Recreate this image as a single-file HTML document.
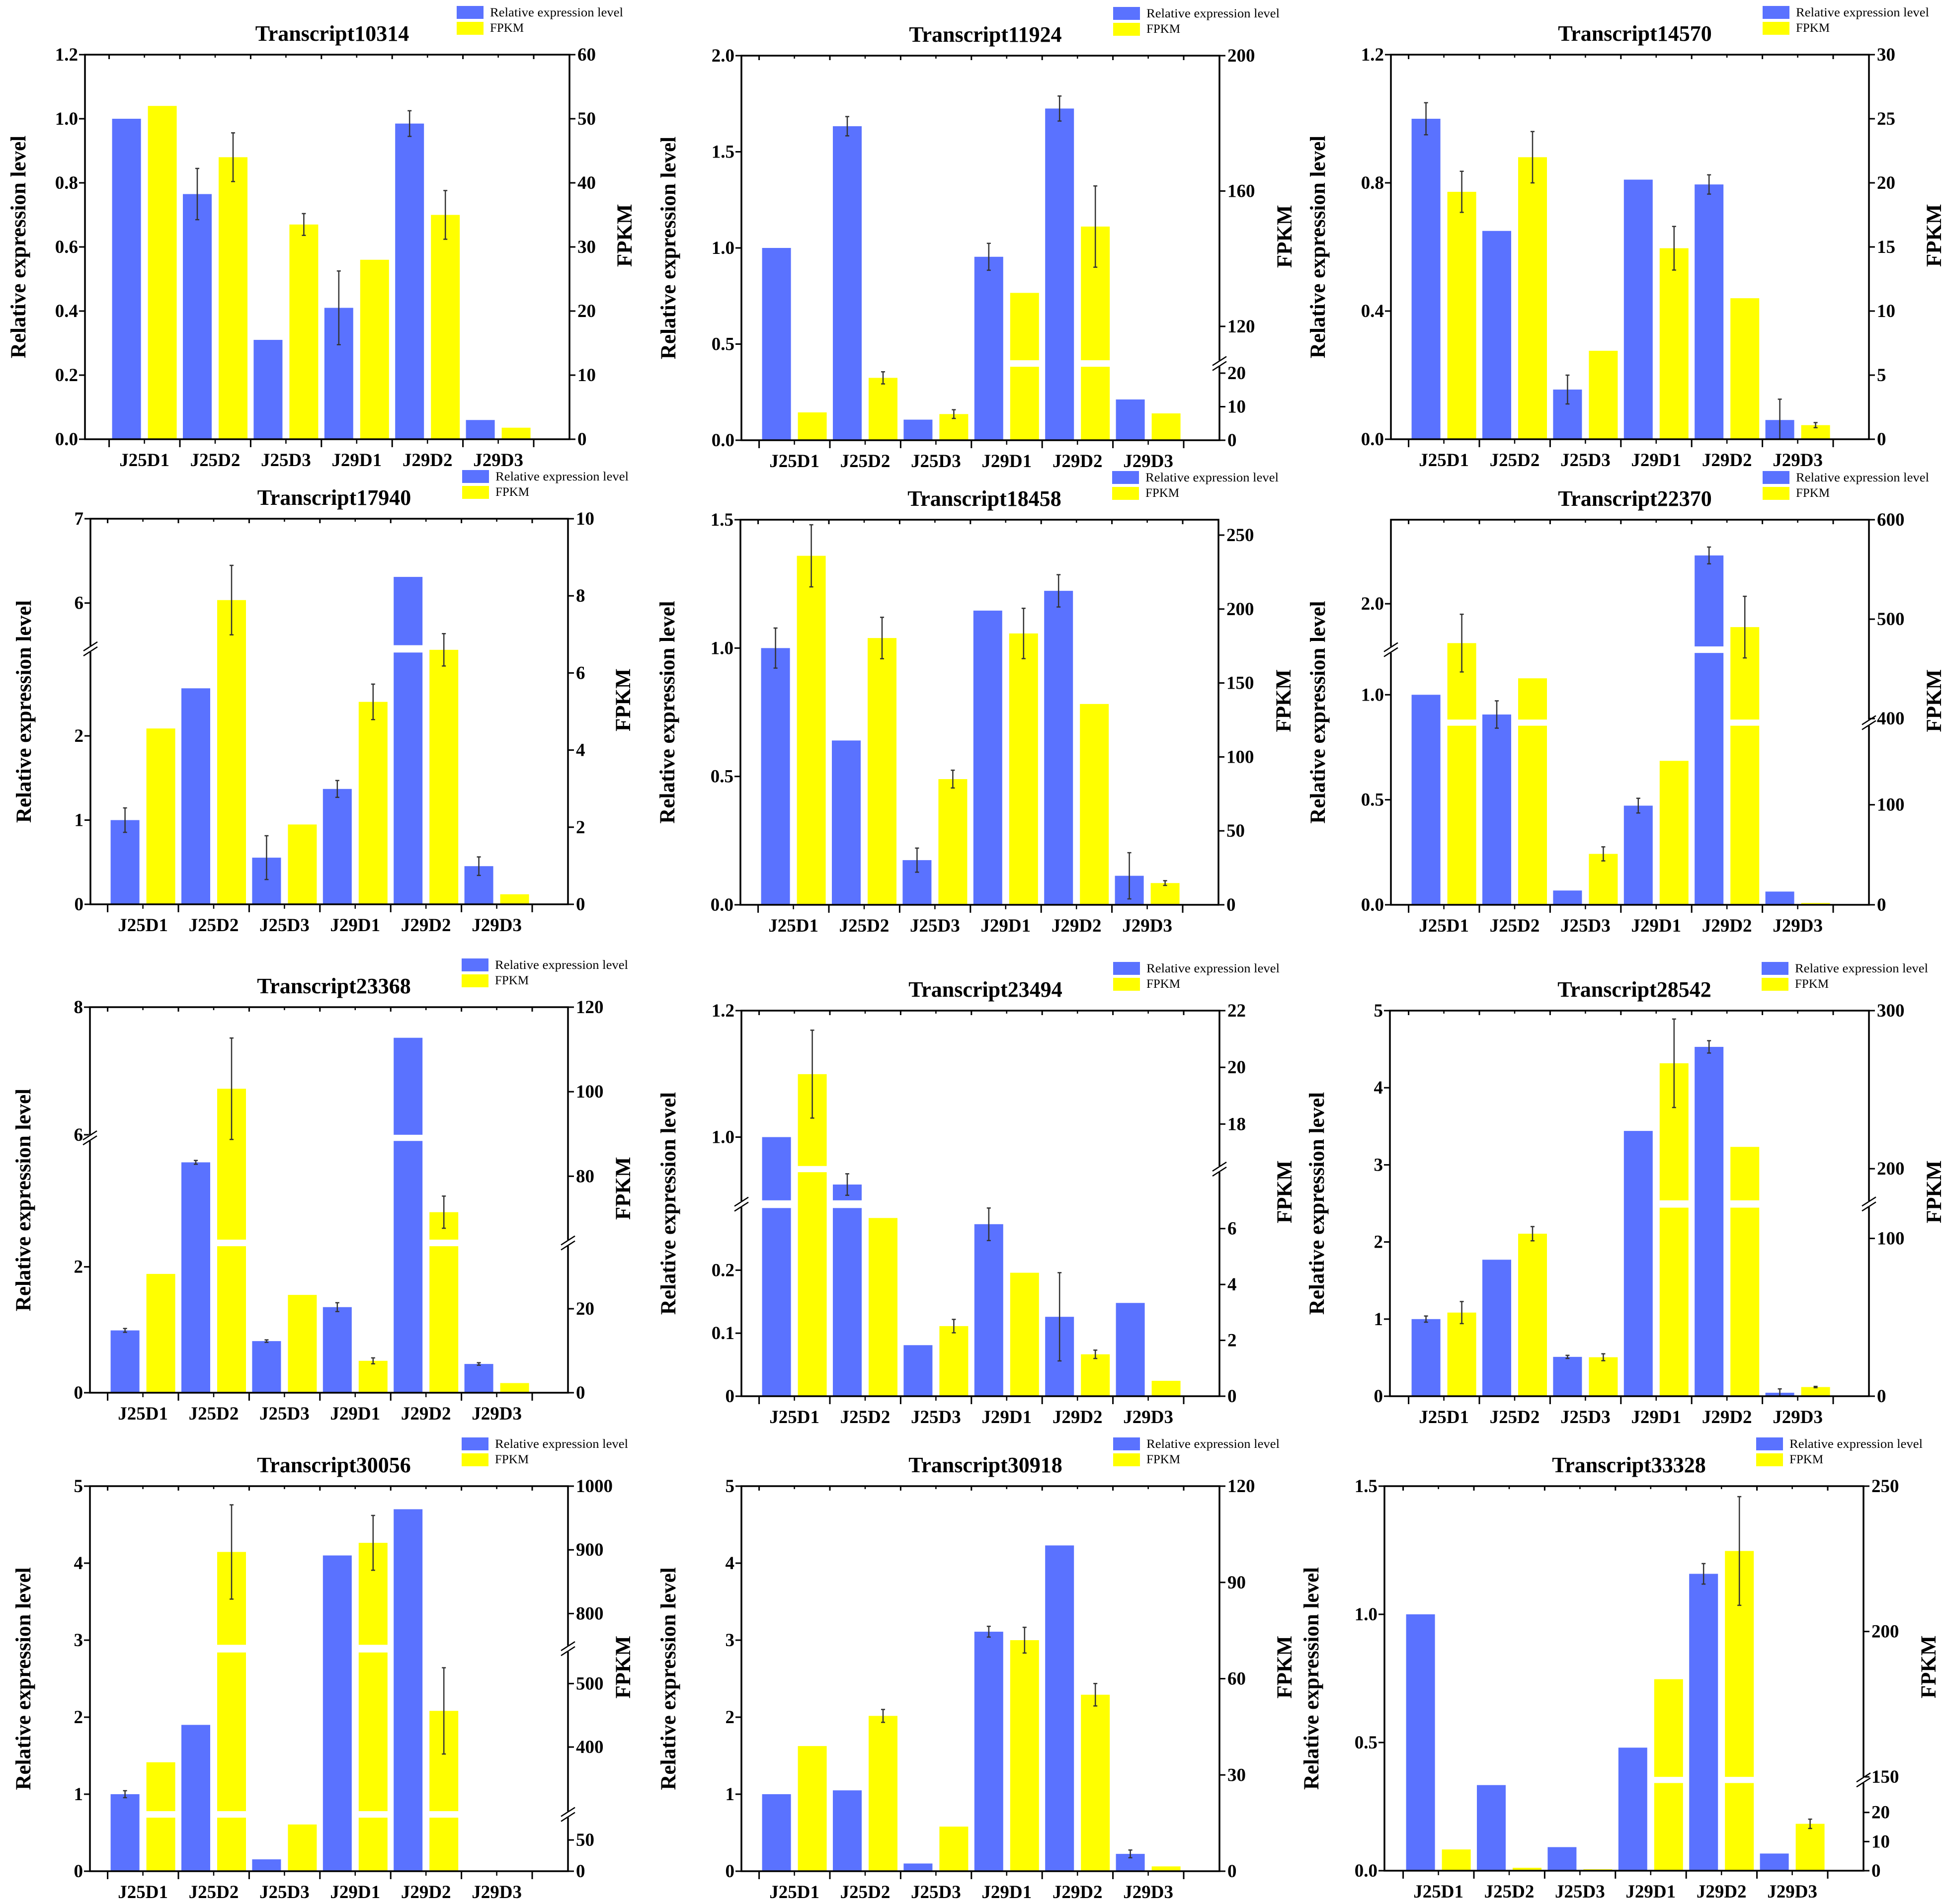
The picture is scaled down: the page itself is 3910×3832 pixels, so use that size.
<!DOCTYPE html>
<html><head><meta charset="utf-8"><style>
html,body{margin:0;padding:0;background:#fff}
svg{display:block}
text{font-family:"Liberation Serif",serif}
</style></head><body>
<svg id="fig" xmlns="http://www.w3.org/2000/svg" width="3910" height="3832" viewBox="0 0 3910 3832"></svg>
<script>
const categories = ['J25D1','J25D2','J25D3','J29D1','J29D2','J29D3'];
const titles = ['Transcript10314','Transcript11924','Transcript14570','Transcript17940','Transcript18458','Transcript22370','Transcript23368','Transcript23494','Transcript28542','Transcript30056','Transcript30918','Transcript33328'];

const rel_10314 = [1.0,0.765,0.31,0.41,0.985,0.06];
const relErr_10314 = [0,0.08,0,0.115,0.04,0];
const fpkm_10314 = [52,44,33.5,28,35,1.8];
const fpkmErr_10314 = [0,3.8,1.7,0,3.8,0];

const rel_11924 = [1.0,1.633,0.107,0.954,1.725,0.212];
const relErr_11924 = [0,0.05,0,0.07,0.065,0];
const fpkm_11924 = [8.3,18.6,7.8,129.9,149.5,8.0];
const fpkmErr_11924 = [0,1.8,1.3,0,12,0];

const rel_14570 = [1.0,0.65,0.155,0.81,0.795,0.06];
const relErr_14570 = [0.05,0,0.045,0,0.03,0.065];
const fpkm_14570 = [19.3,22,6.9,14.9,11,1.1];
const fpkmErr_14570 = [1.6,2,0,1.7,0,0.2];

const rel_17940 = [1.0,2.565,0.554,1.37,6.31,0.453];
const relErr_17940 = [0.145,0,0.26,0.1,0,0.11];
const fpkm_17940 = [4.56,7.89,2.07,5.25,6.6,0.26];
const fpkmErr_17940 = [0,0.9,0,0.46,0.42,0];

const rel_18458 = [1.0,0.64,0.174,1.146,1.223,0.113];
const relErr_18458 = [0.078,0,0.047,0,0.063,0.09];
const fpkm_18458 = [236,180.4,85,183.5,135.8,14.7];
const fpkmErr_18458 = [21,14,6,17,0,1.6];

const rel_22370 = [1.0,0.906,0.068,0.472,2.23,0.063];
const relErr_22370 = [0,0.065,0,0.035,0.04,0];
const fpkm_22370 = [475.9,440.5,50.9,143.9,492,1.8];
const fpkmErr_22370 = [29,0,7,0,31,0];

const rel_23368 = [0.99,3.66,0.82,1.36,7.52,0.457];
const relErr_23368 = [0.03,0.03,0.02,0.07,0,0.02];
const fpkm_23368 = [28.3,100.7,23.3,7.6,71.5,2.3];
const fpkmErr_23368 = [0,12,0,0.7,3.8,0];

const rel_23494 = [1.0,0.925,0.081,0.273,0.126,0.148];
const relErr_23494 = [0,0.017,0,0.026,0.07,0];
const fpkm_23494 = [19.76,6.38,2.51,4.42,1.5,0.55];
const fpkmErr_23494 = [1.55,0,0.24,0,0.15,0];

const rel_28542 = [1.0,1.77,0.51,3.44,4.53,0.045];
const relErr_28542 = [0.04,0,0.02,0,0.08,0.05];
const fpkm_28542 = [53,103,24.7,266.7,213.8,5.8];
const fpkmErr_28542 = [7,4.5,2.2,28,0,0.4];

const rel_30056 = [1.0,1.9,0.154,4.1,4.7,0];
const relErr_30056 = [0.045,0,0,0,0,0];
const fpkm_30056 = [376,896.7,74.8,911,457,0];
const fpkmErr_30056 = [0,74,0,43,68,0];

const rel_30918 = [1.0,1.05,0.1,3.11,4.23,0.225];
const relErr_30918 = [0,0,0,0.07,0,0.05];
const fpkm_30918 = [39,48.4,13.9,72,55,1.5];
const fpkmErr_30918 = [0,2,0,4,3.5,0];

const rel_33328 = [1.0,0.334,0.092,0.48,1.158,0.067];
const relErr_33328 = [0,0,0,0,0.04,0];
const fpkm_33328 = [7.3,1,0.5,183.6,227.7,16.1];
const fpkmErr_33328 = [0,0,0,0,18.7,1.6];

const leftTicks_10314=[0,0.2,0.4,0.6,0.8,1.0,1.2]; const leftLabels_10314=['0.0','0.2','0.4','0.6','0.8','1.0','1.2'];
const rightTicks_10314=[0,10,20,30,40,50,60];
const leftTicks_11924=[0,0.5,1,1.5,2]; const leftLabels_11924=['0.0','0.5','1.0','1.5','2.0'];
const rightTicks_11924=[0,10,20,120,160,200];
const leftTicks_14570=[0,0.4,0.8,1.2]; const leftLabels_14570=['0.0','0.4','0.8','1.2'];
const rightTicks_14570=[0,5,10,15,20,25,30];
const leftTicks_17940=[0,1,2,6,7]; const leftLabels_17940=['0','1','2','6','7'];
const rightTicks_17940=[0,2,4,6,8,10];
const leftTicks_18458=[0,0.5,1,1.5]; const leftLabels_18458=['0.0','0.5','1.0','1.5'];
const rightTicks_18458=[0,50,100,150,200,250];
const leftTicks_22370=[0,0.5,1,2]; const leftLabels_22370=['0.0','0.5','1.0','2.0'];
const rightTicks_22370=[0,100,400,500,600];
const leftTicks_23368=[0,2,6,8]; const leftLabels_23368=['0','2','6','8'];
const rightTicks_23368=[0,20,80,100,120];
const leftTicks_23494=[0,0.1,0.2,1.0,1.2]; const leftLabels_23494=['0','0.1','0.2','1.0','1.2'];
const rightTicks_23494=[0,2,4,6,18,20,22];
const leftTicks_28542=[0,1,2,3,4,5]; const leftLabels_28542=['0','1','2','3','4','5'];
const rightTicks_28542=[0,100,200,300];
const leftTicks_30056=[0,1,2,3,4,5]; const leftLabels_30056=['0','1','2','3','4','5'];
const rightTicks_30056=[0,50,400,500,800,900,1000];
const leftTicks_30918=[0,1,2,3,4,5]; const leftLabels_30918=['0','1','2','3','4','5'];
const rightTicks_30918=[0,30,60,90,120];
const leftTicks_33328=[0,0.5,1,1.5]; const leftLabels_33328=['0.0','0.5','1.0','1.5'];
const rightTicks_33328=[0,10,20,150,200,250];

// axis scales: [domainStart, domainEnd, fracStart, fracEnd] (fraction of plot height from bottom)
const leftScales = [
 [[0,1.2,0,1]], [[0,2,0,1]], [[0,1.2,0,1]],
 [[0,2.99,0,0.653],[5.5,7,0.672,1]], [[0,1.5,0,1]], [[0,1.199,0,0.654],[1.797,2.4,0.671,1]],
 [[0,4.0,0,0.653],[6,8,0.669,1]], [[0,0.2986,0,0.488],[0.9,1.2,0.508,1]], [[0,5,0,1]],
 [[0,5,0,1]], [[0,5,0,1]], [[0,1.5,0,1]]
];
const rightScales = [
 [[0,60,0,1]], [[0,21.9,0,0.191],[110,200,0.208,1]], [[0,30,0,1]],
 [[0,10,0,1]], [[0,260.4,0,1]], [[0,179,0,0.465],[399,600,0.481,1]],
 [[0,34.9,0,0.38],[65,120,0.397,1]], [[0,8.02,0,0.581],[16.52,22,0.597,1]], [[0,119.5,0,0.489],[180,300,0.508,1]],
 [[0,85.7,0,0.139],[299,549,0.156,0.568],[751,1000,0.588,1]], [[0,120,0,1]], [[0,30.1,0,0.228],[150,250,0.244,1]]
];
const rels=[rel_10314,rel_11924,rel_14570,rel_17940,rel_18458,rel_22370,rel_23368,rel_23494,rel_28542,rel_30056,rel_30918,rel_33328];
const relErrs=[relErr_10314,relErr_11924,relErr_14570,relErr_17940,relErr_18458,relErr_22370,relErr_23368,relErr_23494,relErr_28542,relErr_30056,relErr_30918,relErr_33328];
const fpkms=[fpkm_10314,fpkm_11924,fpkm_14570,fpkm_17940,fpkm_18458,fpkm_22370,fpkm_23368,fpkm_23494,fpkm_28542,fpkm_30056,fpkm_30918,fpkm_33328];
const fpkmErrs=[fpkmErr_10314,fpkmErr_11924,fpkmErr_14570,fpkmErr_17940,fpkmErr_18458,fpkmErr_22370,fpkmErr_23368,fpkmErr_23494,fpkmErr_28542,fpkmErr_30056,fpkmErr_30918,fpkmErr_33328];
const leftTicks=[leftTicks_10314,leftTicks_11924,leftTicks_14570,leftTicks_17940,leftTicks_18458,leftTicks_22370,leftTicks_23368,leftTicks_23494,leftTicks_28542,leftTicks_30056,leftTicks_30918,leftTicks_33328];
const leftLabels=[leftLabels_10314,leftLabels_11924,leftLabels_14570,leftLabels_17940,leftLabels_18458,leftLabels_22370,leftLabels_23368,leftLabels_23494,leftLabels_28542,leftLabels_30056,leftLabels_30918,leftLabels_33328];
const rightTicks=[rightTicks_10314,rightTicks_11924,rightTicks_14570,rightTicks_17940,rightTicks_18458,rightTicks_22370,rightTicks_23368,rightTicks_23494,rightTicks_28542,rightTicks_30056,rightTicks_30918,rightTicks_33328];

// panel layout (pixel boxes): L,R,T,B
const layout = [
 [171,1146,110,884],[1492,2454,112,886],[2799,3761,110,884],
 [182,1143,1044,1820],[1490,2452,1046,1821],[2799,3761,1046,1821],
 [181,1143,2027,2803],[1492,2454,2034,2810],[2797,3761,2034,2810],
 [181,1143,2991,3766],[1492,2454,2991,3766],[2786,3750,2991,3765]
];

const NS='http://www.w3.org/2000/svg';
const svg=document.getElementById('fig');
function mk(tag,attrs,parent){const e=document.createElementNS(NS,tag);for(const k in attrs)e.setAttribute(k,attrs[k]);(parent||svg).appendChild(e);return e;}
function frac(segs,v){
  for(let k=0;k<segs.length;k++){const s=segs[k];
    if(v<s[0]&&k>0) return segs[k-1][3];
    if(v<=s[1]||k===segs.length-1) return s[2]+(v-s[0])/(s[1]-s[0])*(s[3]-s[2]);
  }
}
const BLUE='#5a72ff', YEL='#ffff00';

for(let p=0;p<12;p++){
  const [L,R,T,B]=layout[p]; const W=R-L,H=B-T; const col=p%3;
  const g=mk('g',{});
  
  
  const yL=v=>B-frac(leftScales[p],v)*H;
  const yR=v=>B-frac(rightScales[p],v)*H;
  const cw=142.4; const b0=R-72-6*cw;
  // bars
  const series=[[rels[p],relErrs[p],yL,BLUE,6,leftScales[p],'rel'],[fpkms[p],fpkmErrs[p],yR,YEL,78,rightScales[p],'fpkm']];
  series.forEach(([vals,errs,yf,color,off,segs,nm])=>{
    vals.forEach((v,i)=>{
      if(v<=0) return;
      const x=b0+i*cw+off; const y=yf(v);
      const r=mk('rect',{x:x,y:y,width:58,height:B-y,fill:color},g);
      
      
      for(let k=1;k<segs.length;k++){
        if(v>segs[k-1][1]){
          const y1=B-segs[k][2]*H, y2=B-segs[k-1][3]*H;
          mk('rect',{x:x-1,y:y1,width:60,height:Math.max(y2-y1,8),fill:'#fff'},g);
        }
      }
    });
  });
  // error bars
  series.forEach(([vals,errs,yf,color,off,segs,nm])=>{
    vals.forEach((v,i)=>{
      const e=errs[i]; if(!e) return;
      const cx=b0+i*cw+off+29; const y1=yf(v+e), y2=yf(Math.max(v-e,0));
      const eb=mk('path',{d:`M${cx},${y1}V${y2}M${cx-4},${y1}H${cx+4}M${cx-4},${y2}H${cx+4}`,stroke:'#333',fill:'none','stroke-width':2.5},g);
      
      
    });
  });
  // frame
  const fr=mk('rect',{x:L,y:T,width:W,height:H,fill:'none',stroke:'#000','stroke-width':3.5},g);
  
  
  // x ticks
  for(let i=0;i<=6;i++){const x=b0+i*cw;
    mk('line',{x1:x,x2:x,y1:B,y2:B+16,stroke:'#000','stroke-width':3},g);
    mk('line',{x1:x,x2:x,y1:T,y2:T+9,stroke:'#000','stroke-width':3},g);
  }
  categories.forEach((c,i)=>{const x=b0+i*cw+71;
    mk('line',{x1:x,x2:x,y1:B,y2:B+9,stroke:'#000','stroke-width':2.5},g);
    mk('line',{x1:x,x2:x,y1:T,y2:T+6,stroke:'#000','stroke-width':2.5},g);
    const t=mk('text',{x:x,y:B+54,'text-anchor':'middle','font-size':37,'font-weight':'bold'},g);
    t.textContent=c;
    
    
  });
  // left ticks
  leftTicks[p].forEach((v,i)=>{const y=yL(v);
    mk('line',{x1:L-12,x2:L,y1:y,y2:y,stroke:'#000','stroke-width':3},g);
    const t=mk('text',{x:L-14,y:y+12,'text-anchor':'end','font-size':37,'font-weight':'bold'},g);
    t.textContent=leftLabels[p][i];
    
    
  });
  rightTicks[p].forEach(v=>{const y=yR(v);
    mk('line',{x1:R,x2:R+12,y1:y,y2:y,stroke:'#000','stroke-width':3},g);
    const t=mk('text',{x:R+16,y:y+12,'font-size':37,'font-weight':'bold'},g);
    t.textContent=String(v);
    
    
  });
  // break marks
  [[leftScales[p],L],[rightScales[p],R]].forEach(([segs,ax])=>{
    for(let k=1;k<segs.length;k++){
      const yc=B-(segs[k-1][3]+segs[k][2])/2*H;
      mk('rect',{x:ax-3,y:yc-6,width:6,height:12,fill:'#fff'},g);
      const bm=mk('path',{d:`M${ax-14},${yc+4}L${ax+14},${yc-14}M${ax-14},${yc+14}L${ax+14},${yc-4}`,stroke:'#000','stroke-width':2.5,fill:'none'},g);
      
      
    }
  });
  // titles
  const tt=mk('text',{x:L+W/2+10,y:T-28,'text-anchor':'middle','font-size':44,'font-weight':'bold'},g);
  tt.textContent=titles[p];
  
  
  const ylx=L-(col===0?135:148), ylc=T+H/2;
  const yt=mk('text',{x:ylx,y:ylc,'text-anchor':'middle','font-size':43,'font-weight':'bold',transform:`rotate(-90 ${ylx} ${ylc}) translate(0 15)`},g);
  yt.textContent='Relative expression level';
  
  
  const frx=R+(col===0?110:130), fry=T+H*0.47;
  const ft=mk('text',{x:frx,y:fry,'text-anchor':'middle','font-size':43,'font-weight':'bold',transform:`rotate(-90 ${frx} ${fry}) translate(0 15)`},g);
  ft.textContent='FPKM';
  
  
  // legend
  const lx=L+748, ly=T-98;
  const s1=mk('rect',{x:lx,y:ly,width:54,height:26,fill:BLUE},g);
  
  
  const s2=mk('rect',{x:lx,y:ly+32,width:54,height:26,fill:YEL},g);
  
  
  const l1=mk('text',{x:lx+67,y:ly+21,'font-size':25,textLength:268,lengthAdjust:'spacingAndGlyphs'},g);
  l1.textContent='Relative expression level';
  
  
  const l2=mk('text',{x:lx+67,y:ly+52,'font-size':25},g);
  l2.textContent='FPKM';
  
  
}
</script>
</body></html>
